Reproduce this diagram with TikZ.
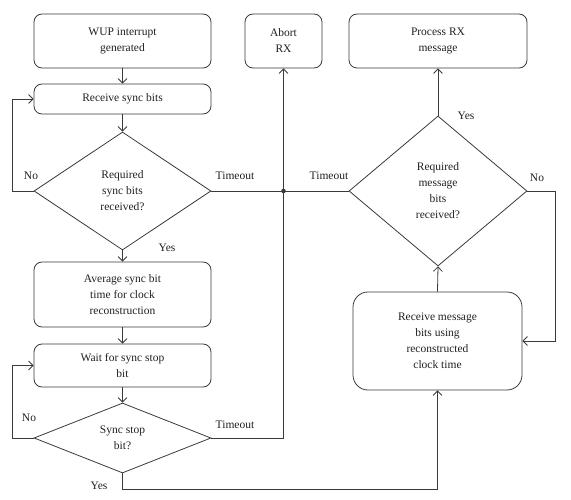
\documentclass[tikz,border=0pt]{standalone}
\usepackage{fontspec}
\setmainfont{Liberation Serif}
\usetikzlibrary{shapes.geometric,arrows.meta}
\definecolor{ln}{HTML}{3A3A3A}
\definecolor{tx}{HTML}{231F20}
\begin{document}
\begin{tikzpicture}[x=1pt,y=-1pt,
  every node/.style={text=tx,font=\fontsize{11.5}{16}\selectfont},
  proc/.style={draw=ln,line width=0.8pt,rounded corners=8pt,align=center,inner sep=0pt},
  dec/.style={draw=ln,line width=0.8pt,diamond,align=center,inner sep=0pt},
  lbl/.style={inner sep=0pt},
  conn/.style={draw=ln,line width=0.8pt,-{Straight Barb[length=4.5pt,width=9pt]}},
  plain/.style={draw=ln,line width=0.8pt}]
\useasboundingbox (0,0) rectangle (571,500);
\node[proc,minimum width=177pt,minimum height=54pt] (wup) at (122.5,41) {WUP interrupt\\generated};
\node[proc,minimum width=177pt,minimum height=30pt] (rsb) at (122.5,99) {Receive sync bits};
\node[dec,minimum width=177pt,minimum height=118pt] (d1) at (122.5,191) {Required\\sync bits\\received?};
\node[proc,minimum width=177pt,minimum height=65pt] (avg) at (122.5,294.5) {Average sync bit\\time for clock\\reconstruction};
\node[proc,minimum width=177pt,minimum height=43pt] (wait) at (122.5,365.5) {Wait for sync stop\\bit};
\node[dec,minimum width=177pt,minimum height=70pt] (d3) at (122.5,438) {Sync stop\\bit?};
\node[proc,minimum width=77pt,minimum height=54pt] (abort) at (283.5,41) {Abort\\RX};
\node[proc,minimum width=178pt,minimum height=54pt] (pm) at (438,41) {Process RX\\message};
\node[dec,minimum width=178pt,minimum height=150pt] (d2) at (438,191) {Required\\message\\bits\\received?};
\node[proc,rounded corners=15pt,minimum width=169pt,minimum height=98pt] (rm) at (437.5,341) {Receive message\\bits using\\reconstructed\\clock time};
% labels
\node[lbl] (l1) at (31,176) {No};
\node[lbl] (l2) at (235,176) {Timeout};
\node[lbl] (l3) at (167,248) {Yes};
\node[lbl] (l4) at (329,176) {Timeout};
\node[lbl] (l5) at (466,116) {Yes};
\node[lbl] (l6) at (537,178) {No};
\node[lbl] (l7) at (29,418) {No};
\node[lbl] (l8) at (235,425) {Timeout};
\node[lbl] (l9) at (99,486) {Yes};
% connectors
\draw[conn] (wup) -- (rsb);
\draw[conn] (rsb) -- (d1);
\draw[conn] (d1) -- (avg);
\draw[conn] (avg) -- (wait);
\draw[conn] (wait) -- (d3);
\draw[conn] (d1.west) -- ++(-21,0) |- (rsb.west);
\draw[conn] (d3.west) -- ++(-21,0) |- (wait.west);
\coordinate (j) at (abort.south |- d1.east);
\draw[plain] (d1.east) -- (d2.west);
\fill[ln] (j) circle (2.3pt);
\draw[conn] (d3.east) -| (abort.south);
\draw[conn] (d2.north) -- (pm.south);
\draw[conn] (rm.north) -- (d2.south);
\draw[conn] (d2.east) -- ++(28,0) |- (rm.east);
\draw[conn] (d3.south) -- ++(0,16) -| (rm.south);
\end{tikzpicture}
\end{document}
